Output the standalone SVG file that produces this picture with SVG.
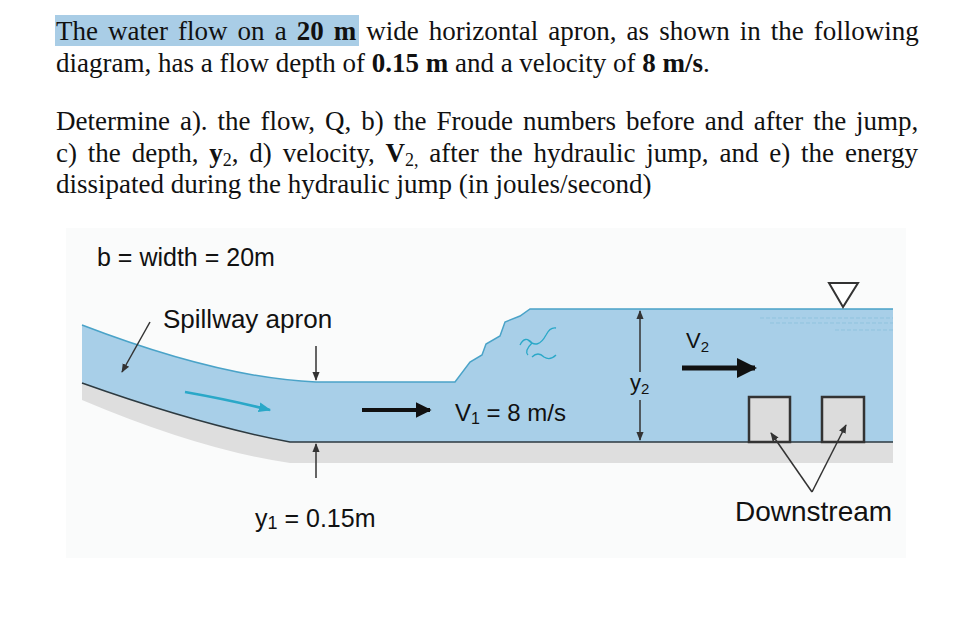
<svg xmlns="http://www.w3.org/2000/svg" width="975" height="619" viewBox="0 0 975 619">
<defs>
<style>
.q{font-family:"Liberation Serif",serif;font-size:27px;fill:#111}
.s{font-family:"Liberation Sans",Arial,sans-serif;fill:#111}
.thin{stroke:#333;stroke-width:1.5;fill:none}
</style>
<marker id="ah" viewBox="0 0 10 10" refX="9" refY="5" markerWidth="6" markerHeight="6" orient="auto-start-reverse"><path d="M0,1 L10,5 L0,9 z" fill="#333"/></marker>
<marker id="bh" viewBox="0 0 10 10" refX="9" refY="5" markerWidth="4" markerHeight="4" orient="auto"><path d="M0,0 L10,5 L0,10 z" fill="#111"/></marker>
<marker id="th" viewBox="0 0 10 10" refX="9" refY="5" markerWidth="5" markerHeight="5" orient="auto"><path d="M0,1 L10,5 L0,9 z" fill="#2aa8c8"/></marker>
</defs>
<rect width="975" height="619" fill="#fff"/>
<g id="question">
<rect x="55" y="15" width="304" height="31" fill="#a9cde6"/>
<text class="q" x="56" y="40" word-spacing="3.3">The water flow on a <tspan font-weight="bold">20 m</tspan> wide horizontal apron, as shown in the following</text>
<text class="q" x="56" y="72">diagram, has a flow depth of <tspan font-weight="bold">0.15 m</tspan> and a velocity of <tspan font-weight="bold">8 m/s</tspan>.</text>
<text class="q" x="56" y="130" word-spacing="3.2">Determine a). the flow, Q, b) the Froude numbers before and after the jump,</text>
<text class="q" x="56" y="162" word-spacing="4.1">c) the depth, <tspan font-weight="bold">y</tspan><tspan font-size="18" dy="4">2</tspan><tspan dy="-4">, d) velocity, </tspan><tspan font-weight="bold">V</tspan><tspan font-size="18" dy="4">2,</tspan><tspan dy="-4"> after the hydraulic jump, and e) the energy</tspan></text>
<text class="q" x="56" y="193">dissipated during the hydraulic jump (in joules/second)</text>
</g>
<rect x="66" y="228" width="840" height="330" fill="#fafbfb"/>
<g id="floor">
<path d="M82,383 Q200,425 290,442 L893,442 L893,463 L290,463 Q200,450 82,400 Z" fill="#dedede"/>
</g>
<g id="water">
<path d="M82,325 Q220,378 316,382 L455,382 L470,362 L482,355 L486,344 L500,336 L505,322 L520,316 L530,309 L893,309 L893,442 L290,442 Q200,425 82,383 Z" fill="#a8cfe8"/>
<path d="M82,325 Q220,378 316,382 L455,382 L470,362 L482,355 L486,344 L500,336 L505,322 L520,316 L530,309 L893,309" fill="none" stroke="#4aa3c8" stroke-width="1.5"/>
<path d="M82,383 Q200,425 290,442 L893,442" fill="none" stroke="#2d3a40" stroke-width="1.5"/>
<g stroke="#8fc3de" stroke-width="1" stroke-dasharray="4 2">
<line x1="760" y1="318" x2="893" y2="318"/><line x1="770" y1="323" x2="893" y2="323"/><line x1="835" y1="330" x2="893" y2="330"/>
</g>
<path d="M520,345 q5,-10 12,-2 q-8,8 -4,12 M528,340 q10,10 18,-5 q4,-8 10,-7 M532,357 q6,-6 12,0 q6,4 12,-2" fill="none" stroke="#2aa8c8" stroke-width="1.3"/>
<path d="M843,307 L829,283 L858,283 Z" fill="#fff" stroke="#333" stroke-width="2"/>
</g>
<g id="blocks">
<rect x="749" y="397" width="41" height="45" fill="#dcdcdc" stroke="#333" stroke-width="2.5"/>
<rect x="822" y="397" width="42" height="45" fill="#dcdcdc" stroke="#333" stroke-width="2.5"/>
</g>
<g id="connectors">
<line class="thin" x1="150" y1="322" x2="122" y2="372" marker-end="url(#ah)"/>
<line class="thin" x1="316" y1="346" x2="316" y2="380" marker-end="url(#ah)"/>
<line class="thin" x1="316" y1="478" x2="316" y2="444" marker-end="url(#ah)"/>
<path d="M185,392 Q230,400 270,410" fill="none" stroke="#2aa8c8" stroke-width="2.5" marker-end="url(#th)"/>
<line x1="362" y1="410" x2="430" y2="410" stroke="#111" stroke-width="4" marker-end="url(#bh)"/>
<line x1="682" y1="368" x2="755" y2="368" stroke="#111" stroke-width="5" marker-end="url(#bh)"/>
<line class="thin" x1="640" y1="372" x2="640" y2="311" marker-end="url(#ah)"/>
<line class="thin" x1="640" y1="400" x2="640" y2="440" marker-end="url(#ah)"/>
<line class="thin" x1="812" y1="492" x2="771" y2="433" marker-end="url(#ah)"/>
<line class="thin" x1="812" y1="492" x2="846" y2="425" marker-end="url(#ah)"/>
</g>
<g id="labels">
<text class="s" x="97" y="266" font-size="25">b = width = 20m</text>
<text class="s" x="163" y="328" font-size="26">Spillway apron</text>
<text class="s" x="255" y="527" font-size="25">y<tspan font-size="18" dy="2">1</tspan><tspan dy="-2"> = 0.15m</tspan></text>
<text class="s" x="455" y="421" font-size="24">V<tspan font-size="16" dy="3">1</tspan><tspan dy="-3"> = 8 m/s</tspan></text>
<text class="s" x="630" y="390" font-size="22">y<tspan font-size="15" dy="4">2</tspan></text>
<text class="s" x="686" y="348" font-size="22">V<tspan font-size="15" dy="4">2</tspan></text>
<text class="s" x="735" y="521" font-size="28">Downstream</text>
</g>
</svg>
